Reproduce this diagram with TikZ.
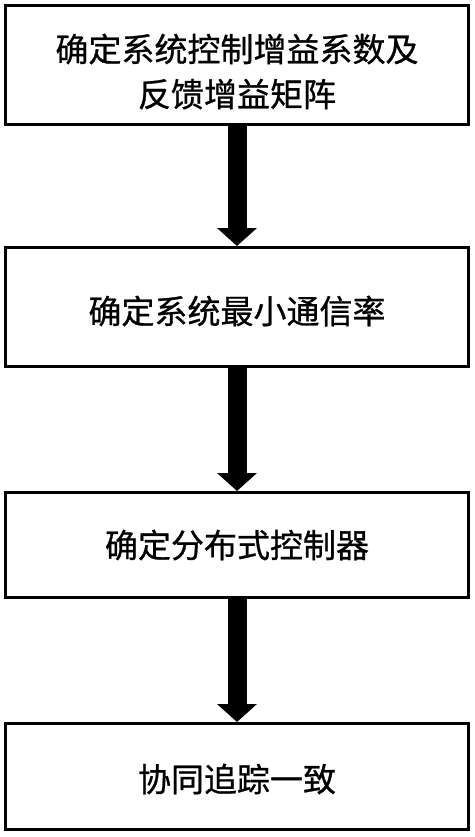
\documentclass[tikz,border=0pt]{standalone}
\usepackage{fontspec}
\newfontfamily\cjk[FakeBold=0.8]{Noto Sans CJK SC}
\usepackage{tikz}
\usetikzlibrary{arrows.meta,positioning}
\tikzset{
  stepbox/.style={
    draw,
    line width=3pt,
    align=center,
    inner sep=0pt,
    minimum width=463pt,
    font=\cjk\fontsize{33}{45}\selectfont
  },
  flow/.style={-{Triangle[width=39pt,length=18pt]}, line width=19pt}
}
\begin{document}
\begin{tikzpicture}[x=1pt,y=-1pt]
    \useasboundingbox (0,0) rectangle (474,837);

    \node[stepbox, minimum height=119pt, text height=86pt] (gain) at (237,65) {确定系统控制增益系数及\\反馈增益矩阵};
    \node[stepbox, minimum height=119pt, text height=36pt] (rate) at (237,307) {确定系统最小通信率};
    \node[stepbox, minimum height=105pt] (ctrl) at (237,545) {确定分布式控制器};
    \node[stepbox, minimum height=106pt, text height=33pt] (track) at (237,776.5) {协同追踪一致};

    \draw[flow] (gain) -- (rate);
    \draw[flow] (rate) -- (ctrl);
    \draw[flow] (ctrl) -- (track);
  \end{tikzpicture}
\end{document}
